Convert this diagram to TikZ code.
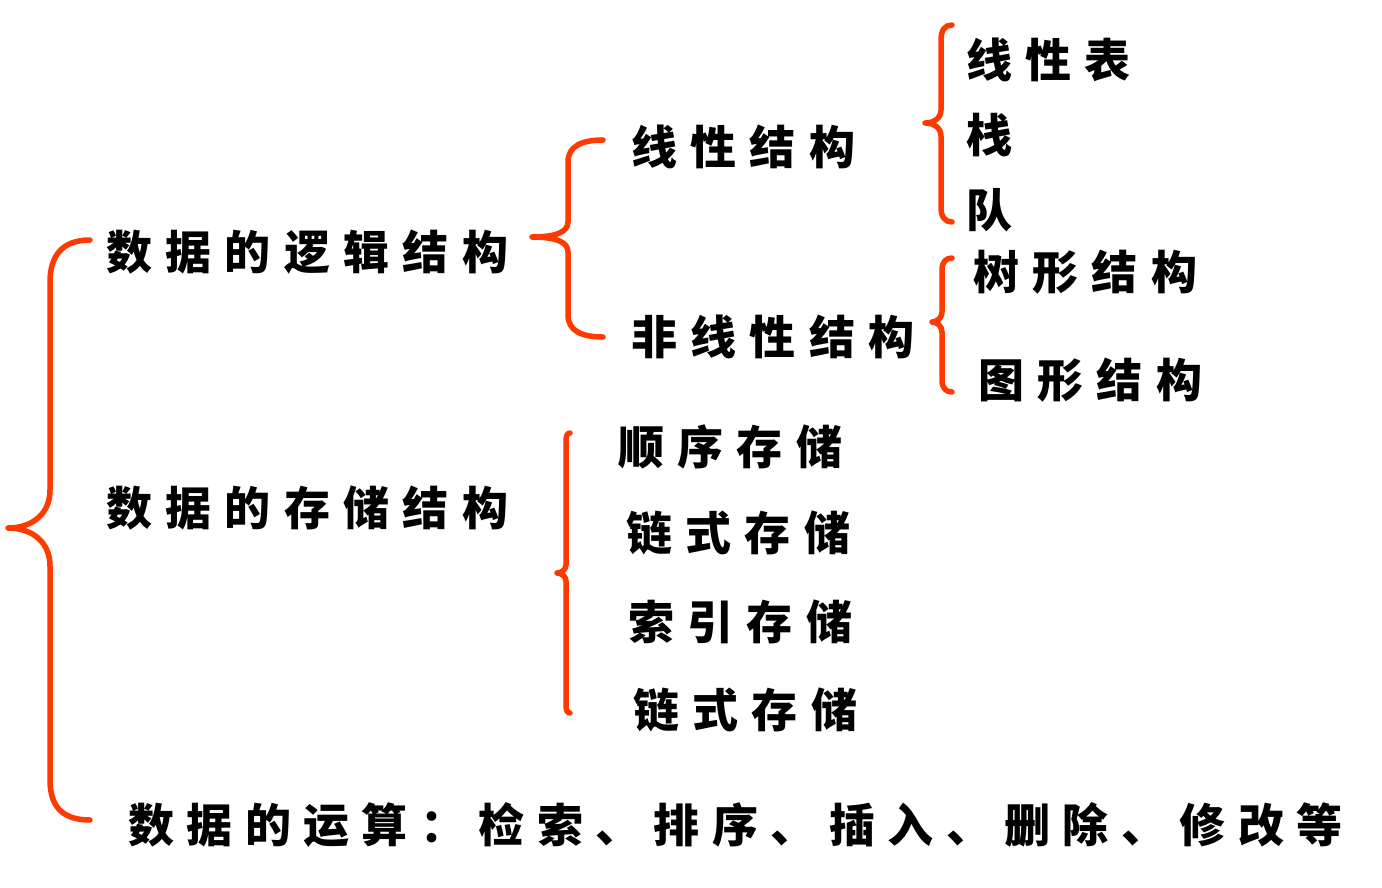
\documentclass[tikz,border=0pt]{standalone}
\usepackage{fontspec}
\usepackage{tikz}
\newfontfamily\cjk[LetterSpace=29]{Noto Sans CJK SC}
\newfontfamily\cjkops[LetterSpace=27]{Noto Sans CJK SC}
\definecolor{braceRed}{RGB}{255,58,0}

\begin{document}
\begin{tikzpicture}[x=1pt,y=-1pt]
\tikzstyle{every node}=[font=\cjk\bfseries\fontsize{46}{50}\selectfont,inner sep=0pt,anchor=west]
\tikzstyle{brace line}=[braceRed,line width=5.5pt,line cap=round,line join=round]
\useasboundingbox (0,0) rectangle (1382,888);

%main brace
\path (90,240) coordinate (m0);
\path (8,528) coordinate (m1);
\path (90,820) coordinate (m2);
\draw [brace line] (m0) .. controls (62,240) and (50,256) .. (50,282) -- (50,490)
  .. controls (50,514) and (32,528) .. (m1)
  .. controls (32,528) and (50,542) .. (50,566) -- (50,780)
  .. controls (50,806) and (62,820) .. (m2);

%logic brace
\path (603,140) coordinate (l0);
\path (532,237) coordinate (l1);
\path (603,337) coordinate (l2);
\draw [brace line] (l0) .. controls (582,140) and (568,146) .. (568,162) -- (568,222)
  .. controls (568,232) and (556,237) .. (l1)
  .. controls (556,237) and (568,242) .. (568,252) -- (568,315)
  .. controls (568,331) and (582,337) .. (l2);

%linear brace
\path (952,25) coordinate (a0);
\path (925,123) coordinate (a1);
\path (952,222) coordinate (a2);
\draw [brace line] (a0) .. controls (945,25) and (941,30) .. (941,40) -- (941,110)
  .. controls (941,118) and (934,123) .. (a1)
  .. controls (934,123) and (941,128) .. (941,136) -- (941,207)
  .. controls (941,217) and (945,222) .. (a2);

%nonlinear brace
\path (952,258) coordinate (b0);
\path (932,322) coordinate (b1);
\path (952,392) coordinate (b2);
\draw [brace line] (b0) .. controls (946,258) and (942,262) .. (942,270) -- (942,312)
  .. controls (942,318) and (937,322) .. (b1)
  .. controls (937,322) and (942,326) .. (942,332) -- (942,380)
  .. controls (942,388) and (946,392) .. (b2);

%storage brace
\path (570,433) coordinate (s0);
\path (557,573) coordinate (s1);
\path (570,713) coordinate (s2);
\draw [brace line] (s0) .. controls (567,433) and (566,436) .. (566,442) -- (566,565)
  .. controls (566,570) and (561,573) .. (s1)
  .. controls (561,573) and (566,576) .. (566,581) -- (566,704)
  .. controls (566,710) and (567,713) .. (s2);

%texts
\node (logic) at (106,252) {数据的逻辑结构};
\node (store) at (106,508) {数据的存储结构};
\node (linear) at (631,147) {线性结构};
\node (nonlinear) at (631,337) {非线性结构};
\node (list) at (966,60) {线性表};
\node (stack) at (966,135) {栈};
\node (queue) at (966,210) {队};
\node (tree) at (973,272) {树形结构};
\node (graph) at (978,380) {图形结构};
\node (seq) at (618,447) {顺序存储};
\node (link) at (626,533) {链式存储};
\node (index) at (628,622) {索引存储};
\node (linkb) at (633,710) {链式存储};
\node [font=\cjkops\bfseries\fontsize{46}{50}\selectfont] (ops) at (128,825) {数据的运算：检索、排序、插入、删除、修改等};
\end{tikzpicture}
\end{document}
